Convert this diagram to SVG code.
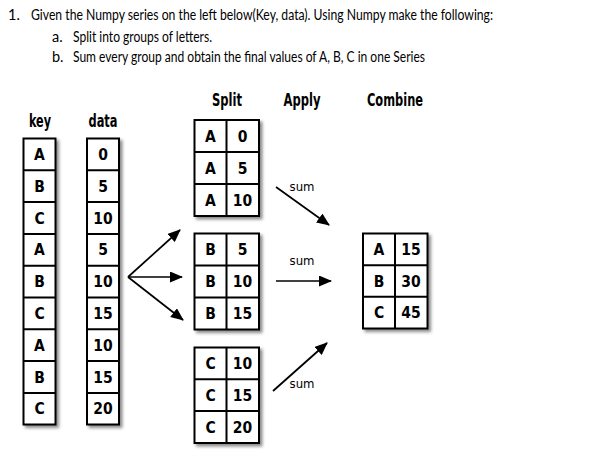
<svg xmlns="http://www.w3.org/2000/svg" width="591" height="470" viewBox="0 0 591 470">
<style>
.q{font-family:Lato,"Liberation Sans",sans-serif;font-size:14.5px;fill:#000}
.h{font-family:"DejaVu Sans Condensed","DejaVu Sans",sans-serif;font-stretch:condensed;font-weight:bold;font-size:17px;text-anchor:middle;fill:#000}
.c{font-family:"DejaVu Sans Condensed","DejaVu Sans",sans-serif;font-stretch:condensed;font-weight:bold;font-size:15.5px;text-anchor:middle;fill:#000}
.s{font-family:"DejaVu Sans Condensed","DejaVu Sans",sans-serif;font-stretch:condensed;font-size:13px;text-anchor:middle;fill:#000}
.box{fill:#fff;stroke:#000;stroke-width:2;filter:url(#sh)}
.ln{stroke:#000;stroke-width:2;fill:none}
.ar{stroke:#000;stroke-width:1.7;fill:none;marker-end:url(#ah)}
</style>
<defs>
<filter id="sh" x="-20%" y="-20%" width="150%" height="150%">
<feDropShadow dx="2.5" dy="2.5" stdDeviation="1.5" flood-color="#000" flood-opacity="0.45"/>
</filter>
<marker id="ah" markerUnits="userSpaceOnUse" markerWidth="13" markerHeight="11" refX="12" refY="5.5" orient="auto">
<path d="M0,0 L13,5.5 L0,11 z" fill="#000"/>
</marker>
</defs>
<rect width="591" height="470" fill="#fff"/>

<g id="question">
<text class="q" x="8" y="20">1.</text>
<text class="q" x="31" y="20" textLength="462" lengthAdjust="spacingAndGlyphs">Given the Numpy series on the left below(Key, data). Using Numpy make the following:</text>
<text class="q" x="52" y="41.5">a.</text>
<text class="q" x="73" y="41.5" textLength="139" lengthAdjust="spacingAndGlyphs">Split into groups of letters.</text>
<text class="q" x="52" y="61.5">b.</text>
<text class="q" x="73" y="61.5" textLength="352" lengthAdjust="spacingAndGlyphs">Sum every group and obtain the final values of A, B, C in one Series</text>
</g>

<g id="headers">
<text class="h" x="40" y="127" textLength="22" lengthAdjust="spacingAndGlyphs">key</text>
<text class="h" x="103" y="127" textLength="29" lengthAdjust="spacingAndGlyphs">data</text>
<text class="h" x="227" y="106" textLength="30" lengthAdjust="spacingAndGlyphs">Split</text>
<text class="h" x="302" y="106" textLength="37" lengthAdjust="spacingAndGlyphs">Apply</text>
<text class="h" x="395" y="106" textLength="56" lengthAdjust="spacingAndGlyphs">Combine</text>
</g>

<g id="key">
<rect class="box" x="23.5" y="138.5" width="32" height="286"/>
<path class="ln" d="M23.5,170.3H55.5M23.5,202.1H55.5M23.5,233.9H55.5M23.5,265.7H55.5M23.5,297.5H55.5M23.5,329.3H55.5M23.5,361.1H55.5M23.5,392.9H55.5"/>
<text class="c" x="39.5" y="160">A</text>
<text class="c" x="39.5" y="191.8">B</text>
<text class="c" x="39.5" y="223.6">C</text>
<text class="c" x="39.5" y="255.4">A</text>
<text class="c" x="39.5" y="287.2">B</text>
<text class="c" x="39.5" y="319">C</text>
<text class="c" x="39.5" y="350.8">A</text>
<text class="c" x="39.5" y="382.6">B</text>
<text class="c" x="39.5" y="414.4">C</text>
</g>

<g id="data">
<rect class="box" x="87" y="138.5" width="32" height="286"/>
<path class="ln" d="M87,170.3H119M87,202.1H119M87,233.9H119M87,265.7H119M87,297.5H119M87,329.3H119M87,361.1H119M87,392.9H119"/>
<text class="c" x="103" y="160">0</text>
<text class="c" x="103" y="191.8">5</text>
<text class="c" x="103" y="223.6">10</text>
<text class="c" x="103" y="255.4">5</text>
<text class="c" x="103" y="287.2">10</text>
<text class="c" x="103" y="319">15</text>
<text class="c" x="103" y="350.8">10</text>
<text class="c" x="103" y="382.6">15</text>
<text class="c" x="103" y="414.4">20</text>
</g>

<g id="splitA">
<rect class="box" x="194.5" y="120" width="64.5" height="96"/>
<path class="ln" d="M226.5,120V216M194.5,152H259M194.5,184H259"/>
<text class="c" x="210.5" y="141.5">A</text><text class="c" x="242.5" y="141.5">0</text>
<text class="c" x="210.5" y="173.5">A</text><text class="c" x="242.5" y="173.5">5</text>
<text class="c" x="210.5" y="205.5">A</text><text class="c" x="242.5" y="205.5">10</text>
</g>

<g id="splitB">
<rect class="box" x="194.5" y="233.5" width="64.5" height="96"/>
<path class="ln" d="M226.5,233.5V329.5M194.5,265.5H259M194.5,297.5H259"/>
<text class="c" x="210.5" y="255">B</text><text class="c" x="242.5" y="255">5</text>
<text class="c" x="210.5" y="287">B</text><text class="c" x="242.5" y="287">10</text>
<text class="c" x="210.5" y="319">B</text><text class="c" x="242.5" y="319">15</text>
</g>

<g id="splitC">
<rect class="box" x="194.5" y="347.5" width="64.5" height="95.5"/>
<path class="ln" d="M226.5,347.5V443M194.5,379.3H259M194.5,411.1H259"/>
<text class="c" x="210.5" y="369">C</text><text class="c" x="242.5" y="369">10</text>
<text class="c" x="210.5" y="400.8">C</text><text class="c" x="242.5" y="400.8">15</text>
<text class="c" x="210.5" y="432.6">C</text><text class="c" x="242.5" y="432.6">20</text>
</g>

<g id="combine">
<rect class="box" x="363" y="233.5" width="64.5" height="95"/>
<path class="ln" d="M395,233.5V328.5M363,265.2H427.5M363,296.8H427.5"/>
<text class="c" x="379" y="254.8">A</text><text class="c" x="411" y="254.8">15</text>
<text class="c" x="379" y="286.5">B</text><text class="c" x="411" y="286.5">30</text>
<text class="c" x="379" y="318">C</text><text class="c" x="411" y="318">45</text>
</g>

<g id="connectors">
<line class="ar" x1="128" y1="277" x2="180" y2="230"/>
<line class="ar" x1="128" y1="277" x2="182" y2="277"/>
<line class="ar" x1="128" y1="277" x2="183" y2="320"/>
<line class="ar" x1="276" y1="187" x2="329" y2="225"/>
<line class="ar" x1="276" y1="281" x2="331" y2="281"/>
<line class="ar" x1="273" y1="391" x2="327" y2="343"/>
<text class="s" x="302" y="191">sum</text>
<text class="s" x="302" y="265">sum</text>
<text class="s" x="302" y="388">sum</text>
</g>
</svg>
